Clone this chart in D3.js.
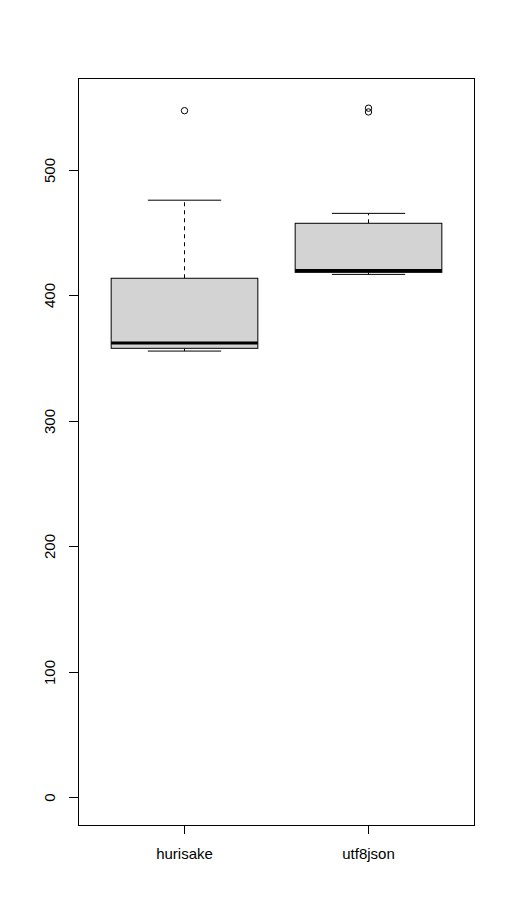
<!DOCTYPE html>
<html>
<head>
<meta charset="utf-8">
<script src="https://cdn.jsdelivr.net/npm/d3@7"></script>
<style>
  body { margin: 0; background: #fff; }
  text { font-family: "Liberation Sans", Arial, sans-serif; font-size: 15px; fill: #000; }
</style>
</head>
<body>
<svg id="chart" width="515" height="923"></svg>
<script>
// box statistics
var categories = ["hurisake", "utf8json"];
var whiskerLow = [355.5, 416.6];
var q1 = [357.7, 418.2];
var medians = [361.9, 419.6];
var q3 = [413.5, 457.3];
var whiskerHigh = [475.7, 465.2];
var outliers = [[547], [549, 546]];
var yTicks = [0, 100, 200, 300, 400, 500];

var svg = d3.select("svg#chart"),
  margin = {top: 78, right: 41, bottom: 98, left: 78},
  width = +svg.attr("width") - margin.left - margin.right,
  height = +svg.attr("height") - margin.top - margin.bottom;

// R style: 4% padding around the limits
var yMax = 551;
var x = d3.scaleLinear().domain([0.5 - 0.08, 2.5 + 0.08]).range([0, width]);
var y = d3.scaleLinear().domain([-yMax * 0.04, yMax * 1.04]).range([height, 0]);

var g = svg.append("g")
  .attr("transform", "translate(" + margin.left + "," + margin.top + ")");

var boxW = x(1.8) - x(1);
var capW = boxW / 2;

categories.forEach(function(c, i) {
  var cx = Math.round(x(i + 1)) + 0.5;

  // dashed whiskers
  g.append("line")
    .attr("x1", cx).attr("x2", cx)
    .attr("y1", y(q3[i])).attr("y2", y(whiskerHigh[i]))
    .attr("stroke", "#000").attr("stroke-dasharray", "4,4");
  g.append("line")
    .attr("x1", cx).attr("x2", cx)
    .attr("y1", y(q1[i])).attr("y2", y(whiskerLow[i]))
    .attr("stroke", "#000").attr("stroke-dasharray", "4,4");

  // staples
  [whiskerHigh[i], whiskerLow[i]].forEach(function(v) {
    g.append("line")
      .attr("x1", cx - capW / 2).attr("x2", cx + capW / 2)
      .attr("y1", y(v)).attr("y2", y(v))
      .attr("stroke", "#000");
  });

  g.append("rect")
    .attr("x", cx - boxW / 2)
    .attr("y", y(q3[i]))
    .attr("width", boxW)
    .attr("height", y(q1[i]) - y(q3[i]))
    .attr("fill", "#d3d3d3")
    .attr("stroke", "#000");

  g.append("line")
    .attr("x1", cx - boxW / 2).attr("x2", cx + boxW / 2)
    .attr("y1", y(medians[i])).attr("y2", y(medians[i]))
    .attr("stroke", "#000").attr("stroke-width", 3);

  outliers[i].forEach(function(v) {
    g.append("circle")
      .attr("cx", cx).attr("cy", y(v)).attr("r", 3.2)
      .attr("fill", "none").attr("stroke", "#000");
  });
});

// frame
g.append("rect")
  .attr("x", 0.5).attr("y", 0.5)
  .attr("width", width).attr("height", height)
  .attr("fill", "none").attr("stroke", "#000");

// y axis
var yAxis = g.append("g").attr("class", "axis axis--y");
yTicks.forEach(function(t) {
  var ty = Math.round(y(t)) + 0.5;
  yAxis.append("line")
    .attr("x1", -9).attr("x2", 0)
    .attr("y1", ty).attr("y2", ty)
    .attr("stroke", "#000");
  yAxis.append("text")
    .attr("transform", "translate(-23," + ty + ") rotate(-90)")
    .attr("text-anchor", "middle")
    .text(t);
});

// x axis
var xAxis = g.append("g").attr("class", "axis axis--x")
  .attr("transform", "translate(0," + height + ")");
categories.forEach(function(c, i) {
  var cx = Math.round(x(i + 1)) + 0.5;
  xAxis.append("line")
    .attr("x1", cx).attr("x2", cx)
    .attr("y1", 0).attr("y2", 9)
    .attr("stroke", "#000");
  xAxis.append("text")
    .attr("x", cx).attr("y", 34)
    .attr("text-anchor", "middle")
    .text(c);
});
</script>
</body>
</html>
